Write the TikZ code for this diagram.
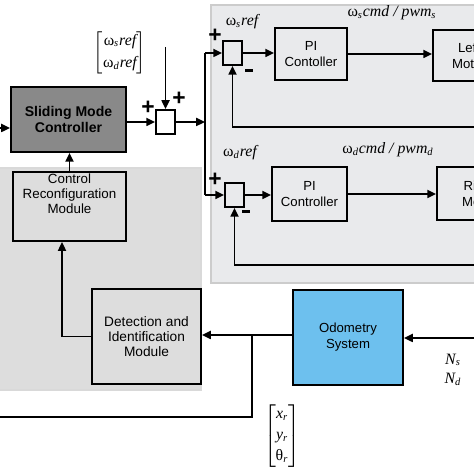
\documentclass[tikz,border=0pt]{standalone}
\usepackage{fontspec}
\setmainfont{Liberation Sans}
\newfontfamily\lblfont{Liberation Serif}
\usetikzlibrary{positioning,arrows.meta}

\definecolor{smcgray}{RGB}{137,137,137}
\definecolor{odoblue}{RGB}{109,192,238}
\definecolor{loopbg}{RGB}{233,234,236}
\definecolor{supbg}{RGB}{221,221,221}

\begin{document}
\begin{tikzpicture}[
    % Styles for blocks, junctions and signals
    block/.style={rectangle, draw, line width=1.1pt, align=center, inner sep=1pt, font=\fontsize{7.5}{9}\selectfont},
    sumbox/.style={rectangle, draw, line width=1.1pt, minimum width=0.38cm, minimum height=0.48cm, inner sep=0pt},
    sig/.style={-{Triangle[length=5pt,width=4.5pt]}, line width=1.1pt},
    wire/.style={line width=1.1pt},
    sign/.style={font=\fontsize{13}{13}\selectfont\bfseries, inner sep=0pt},
    sym/.style={font=\lblfont\fontsize{9}{10}\selectfont, inner sep=1pt, align=center}
]
    \clip (0,0) rectangle (9.48,9.48);

    % Background panels
    \filldraw[fill=loopbg, draw=gray!40, line width=0.6pt] (4.22,3.82) rectangle (9.7,9.38);
    \filldraw[fill=supbg, draw=gray!30, line width=0.6pt] (-0.1,1.68) rectangle (4.02,6.12);

    % Outer controller
    \node[block, fill=smcgray, font=\fontsize{8}{8.6}\selectfont\bfseries, minimum width=2.3cm, minimum height=1.3cm] (smc) at (1.37,7.09) {Sliding Mode\\Controller};
    \node[sumbox, fill=white] (sum1) at (3.31,7.04) {};
    \node[sym] (refvec) at (2.40,8.42) {$\left[\begin{tabular}{@{}c@{}}ω\textsubscript{\itshape s}\itshape ref\\[3pt]ω\textsubscript{\itshape d}\itshape ref\end{tabular}\right]$};
    \coordinate (top_in) at (3.31,8.54);
    \node[sign] (p1a) at (2.96,7.32) {+};
    \node[sign] (p1b) at (3.58,7.50) {+};

    % Split point of the wheel references
    \coordinate (split) at (4.10,7.04);
    \coordinate (split_top) at (4.10,8.42);
    \coordinate (split_bot) at (4.10,5.58);

    % Left wheel loop
    \node[sumbox] (sums) at (4.65,8.42) {};
    \node[sign] (ps) at (4.30,8.76) {+};
    \node[sign] (ms) at (4.98,8.06) {\rule{4pt}{1.7pt}};
    \node[sym] (sref) at (4.84,9.04) {ω\textsubscript{\itshape s}\itshape ref};
    \node[block, minimum width=1.44cm, minimum height=1.04cm] (pis) at (6.22,8.40) {PI\\Contoller};
    \node[block, minimum width=1.44cm, minimum height=1.02cm] (motl) at (9.38,8.37) {Left\\Motor};
    \node[sym] (scmd) at (7.84,9.22) {ω\textsubscript{\itshape s}\itshape cmd / pwm\textsubscript{s}};
    \coordinate (fb_s) at (9.7,6.94);

    % Right wheel loop
    \node[sumbox] (sumd) at (4.69,5.58) {};
    \node[sign] (pd) at (4.30,5.88) {+};
    \node[sign] (md) at (4.92,5.24) {\rule{4pt}{1.7pt}};
    \node[sym] (dref) at (4.80,6.42) {ω\textsubscript{\itshape d}\itshape ref};
    \node[block, minimum width=1.5cm, minimum height=1.08cm] (pid) at (6.19,5.60) {PI\\Controller};
    \node[block, minimum width=1.68cm, minimum height=1.06cm] (motr) at (9.58,5.61) {Right\\Motor};
    \node[sym] (dcmd) at (7.76,6.48) {ω\textsubscript{\itshape d}\itshape cmd / pwm\textsubscript{d}};
    \coordinate (fb_d) at (9.7,4.18);

    % Supervision and odometry
    \node[block, font=\fontsize{7.6}{8.6}\selectfont, minimum width=2.26cm, minimum height=1.28cm, anchor=north] (crm) at (1.39,6.06) {Control\\Reconfiguration\\Module\\[6pt]};
    \node[block, font=\fontsize{7.8}{8.7}\selectfont, minimum width=2.18cm, minimum height=1.9cm] (dim) at (2.93,2.75) {Detection and\\Identification\\Module};
    \node[block, fill=odoblue, minimum width=2.2cm, minimum height=1.9cm] (odo) at (6.96,2.73) {Odometry\\System};
    \node[sym, font=\lblfont\itshape\fontsize{9}{10.8}\selectfont] (enc) at (9.06,2.09) {N\textsubscript{s}\\N\textsubscript{d}};
    \node[sym] (posvec) at (5.64,0.76) {$\left[\begin{tabular}{@{}c@{}}\itshape x\textsubscript{r}\\[2pt]\itshape y\textsubscript{r}\\[2pt]θ\textsubscript{\itshape r}\end{tabular}\right]$};
    \coordinate (fb_pos) at (5.04,2.78);
    \coordinate (pos_out) at (-0.1,1.14);
    \coordinate (enc_in) at (9.7,2.72);
    \coordinate (in_smc) at (-0.1,6.92);

    % Outer loop connections
    \draw[sig] (in_smc) -- (in_smc -| smc.west);
    \draw[sig] (smc.east |- sum1) -- (sum1.west);
    \draw[sig] (top_in) -- (sum1.north);
    \draw[sig] (sum1.east) -- (split);
    \draw[wire] (split_top) -- (split_bot);
    \draw[sig] (split_top) -- (sums.west);
    \draw[sig] (split_bot) -- (sumd.west);

    % Wheel loops
    \draw[sig] (sums.east) -- (sums.east -| pis.west);
    \draw[sig] (pis.east) -- (pis.east -| motl.west);
    \draw[sig] (fb_s) -| (sums.south);
    \draw[sig] (sumd.east) -- (sumd.east -| pid.west);
    \draw[sig] (pid.east) -- (pid.east -| motr.west);
    \draw[sig] (fb_d) -| (sumd.south);

    % Odometry feedback
    \draw[sig] (enc_in) -- (enc_in -| odo.east);
    \draw[sig] (odo.west |- fb_pos) -- (dim.east |- fb_pos);
    \draw[wire] (fb_pos) |- (pos_out);
    \draw[sig] (dim.west) -| ([xshift=-0.15cm]crm.south);
    \draw[sig] (crm.north) -- (crm.north |- smc.south);

\end{tikzpicture}
\end{document}
